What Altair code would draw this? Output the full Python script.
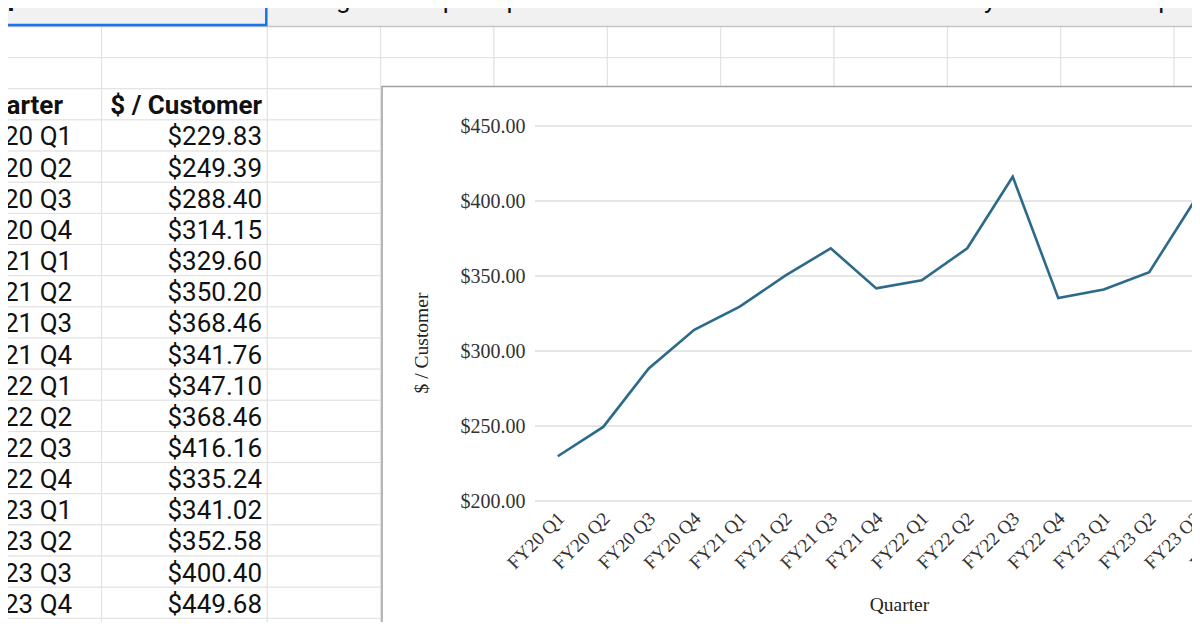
import altair as alt
import pandas as pd

# ---------------- data ----------------
QUARTERS = ["FY20 Q1", "FY20 Q2", "FY20 Q3", "FY20 Q4",
            "FY21 Q1", "FY21 Q2", "FY21 Q3", "FY21 Q4",
            "FY22 Q1", "FY22 Q2", "FY22 Q3", "FY22 Q4",
            "FY23 Q1", "FY23 Q2", "FY23 Q3", "FY23 Q4"]
SPEND = [229.83, 249.39, 288.40, 314.15,
         329.60, 350.20, 368.46, 341.76,
         347.10, 368.46, 416.16, 335.24,
         341.02, 352.58, 400.40, 449.68]
Y_TICKS = [200, 250, 300, 350, 400, 450]
COLUMN_HEADERS = ["Quarter", "$ / Customer"]
SELECTED_CELL = "Spend per Customer:"
NOTE_CELL = ("Average total spend per customer: Increases as customers buy "
             "more seats x price increases")

# ---------------- layout (window pixels) ----------------
MARGIN = 8
WIN_W, WIN_H = 1200, 630
DRAW_W, DRAW_H = WIN_W - 2 * MARGIN, WIN_H - 2 * MARGIN
ROW_TOP, ROW_H, N_ROWS = 26.5, 31.15, 20
COL_LEFT = -30.0
COL_W = [131.5, 165.8] + [113.35] * 9
HEADER_ROW, FIRST_DATA_ROW = 2, 3
BASELINE = 25.5
SHEET_FS = 26
TXT_LEFT_X, TXT_RIGHT_X = -26, 262
PLOT_X0, PLOT_Y0, PLOT_H = 535, 126, 375
STEP = 45.5
FRAME = (382, 86.5, 1500, 900)

SHEET_FONT = "Roboto"
CHART_FONT = "Liberation Serif"
LINE_COLOR = "#2c6a8a"

plot_w = MARGIN + DRAW_W - PLOT_X0

SX = alt.Scale(domain=[0, WIN_W], range=[-PLOT_X0, WIN_W - PLOT_X0], nice=False, zero=False)
SY = alt.Scale(domain=[0, WIN_H], range=[-PLOT_Y0, WIN_H - PLOT_Y0], nice=False, zero=False)


def sx(f):
    return alt.X(f"{f}:Q", scale=SX, axis=None)


def sy(f):
    return alt.Y(f"{f}:Q", scale=SY, axis=None)


# sheet cells
edges = [COL_LEFT]
for w in COL_W:
    edges.append(edges[-1] + w)
cells = pd.DataFrame([
    {"x": edges[c], "x2": edges[c + 1],
     "y": ROW_TOP + r * ROW_H, "y2": ROW_TOP + (r + 1) * ROW_H}
    for r in range(N_ROWS) for c in range(len(COL_W))
])

cell_layer = alt.Chart(cells).mark_rect(fill="white", stroke="#e1e1e1", strokeWidth=1).encode(
    x=sx("x"), x2="x2:Q", y=sy("y"), y2="y2:Q")

band = alt.Chart(pd.DataFrame([{"x": -40, "x2": WIN_W + 40, "y": -20, "y2": ROW_TOP}])).mark_rect(
    fill="#f1f1f1").encode(x=sx("x"), x2="x2:Q", y=sy("y"), y2="y2:Q")

band_line = alt.Chart(pd.DataFrame([{"x": -40, "x2": WIN_W + 40, "y": ROW_TOP}])).mark_rule(
    color="#c6c6c6", strokeWidth=1.5).encode(x=sx("x"), x2="x2:Q", y=sy("y"))

selected = alt.Chart(pd.DataFrame([{"x": -40, "x2": edges[2] - 1, "y": -20, "y2": ROW_TOP - 1.5}])).mark_rect(
    fill="white", fillOpacity=0, stroke="#1a73e8", strokeWidth=2.5).encode(
    x=sx("x"), x2="x2:Q", y=sy("y"), y2="y2:Q")

top_bold = alt.Chart(pd.DataFrame([{"x": 174, "y": 5.5, "t": SELECTED_CELL}])).mark_text(
    font=SHEET_FONT, fontSize=SHEET_FS, fontWeight="bold", align="right", baseline="alphabetic",
    color="#111").encode(x=sx("x"), y=sy("y"), text="t:N")

top_note = alt.Chart(pd.DataFrame([{"x": 271, "y": 7.5, "t": NOTE_CELL}])).mark_text(
    font=SHEET_FONT, fontSize=SHEET_FS, align="left", baseline="alphabetic", color="#111").encode(
    x=sx("x"), y=sy("y"), text="t:N")

hdr_y = ROW_TOP + HEADER_ROW * ROW_H + BASELINE
hdr_left = alt.Chart(pd.DataFrame([{"x": TXT_LEFT_X, "y": hdr_y, "t": COLUMN_HEADERS[0]}])).mark_text(
    font=SHEET_FONT, fontSize=SHEET_FS, fontWeight="bold", align="left", baseline="alphabetic",
    color="#111").encode(x=sx("x"), y=sy("y"), text="t:N")
hdr_right = alt.Chart(pd.DataFrame([{"x": TXT_RIGHT_X, "y": hdr_y, "t": COLUMN_HEADERS[1]}])).mark_text(
    font=SHEET_FONT, fontSize=SHEET_FS, fontWeight="bold", align="right", baseline="alphabetic",
    color="#111").encode(x=sx("x"), y=sy("y"), text="t:N")

table = pd.DataFrame({
    "quarter": QUARTERS,
    "spend": SPEND,
    "xl": [TXT_LEFT_X] * len(QUARTERS),
    "xr": [TXT_RIGHT_X] * len(QUARTERS),
    "y": [ROW_TOP + (FIRST_DATA_ROW + i) * ROW_H + BASELINE for i in range(len(QUARTERS))],
})
q_text = alt.Chart(table).mark_text(
    font=SHEET_FONT, fontSize=SHEET_FS, align="left", baseline="alphabetic", color="#111").encode(
    x=sx("xl"), y=sy("y"), text="quarter:N")
v_text = alt.Chart(table).mark_text(
    font=SHEET_FONT, fontSize=SHEET_FS, align="right", baseline="alphabetic", color="#111").encode(
    x=sx("xr"), y=sy("y"), text=alt.Text("spend:Q", format="$.2f"))

frame = alt.Chart(pd.DataFrame([{"x": FRAME[0], "x2": FRAME[2], "y": FRAME[1], "y2": FRAME[3]}])).mark_rect(
    fill="white", stroke="#a0a0a0", strokeWidth=1.5).encode(
    x=sx("x"), x2="x2:Q", y=sy("y"), y2="y2:Q")

YS = alt.Scale(domain=[Y_TICKS[0], Y_TICKS[-1]], nice=False, zero=False)

grid = alt.Chart(pd.DataFrame({"v": Y_TICKS})).mark_rule(color="#cccccc", strokeWidth=1).encode(
    x=alt.value(0), x2=alt.value(plot_w), y=alt.Y("v:Q", scale=YS, axis=None))

line = alt.Chart(table).mark_line(color=LINE_COLOR, strokeWidth=2.6, clip=False).encode(
    x=alt.X("quarter:N", sort=QUARTERS,
            scale=alt.Scale(type="point", domain=QUARTERS,
                            range=[STEP / 2, STEP / 2 + STEP * (len(QUARTERS) - 1)], padding=0),
            axis=alt.Axis(orient="bottom", title="Quarter", labelAngle=-45, labelAlign="right",
                          labelBaseline="middle", labelPadding=14, labelOffset=3, ticks=False,
                          domain=False, grid=False, labelFontSize=19, titleFontSize=19.5, titleY=109,
                          titleBaseline="alphabetic", labelOverlap=False, zindex=1)),
    y=alt.Y("spend:Q", scale=YS,
            axis=alt.Axis(orient="left", values=Y_TICKS, format="$.2f", title="$ / Customer",
                          labelFontSize=20, labelPadding=10, ticks=False, domain=False, grid=False,
                          titleFontSize=19.5, titleAngle=-90, titleAlign="center",
                          titleBaseline="middle", titleX=421.7 - PLOT_X0, titleY=342.5 - PLOT_Y0,
                          zindex=1)),
)

chart = alt.layer(
    band, cell_layer, band_line, selected, top_bold, top_note,
    hdr_left, hdr_right, q_text, v_text, frame, grid, line,
).resolve_scale(x="independent", y="independent").properties(
    width=plot_w, height=PLOT_H,
    padding={"left": PLOT_X0 - MARGIN, "top": PLOT_Y0 - MARGIN, "right": 0,
             "bottom": MARGIN + DRAW_H - PLOT_Y0 - PLOT_H},
    autosize=alt.AutoSizeParams(type="none"),
    background="white",
).configure_view(stroke=None).configure_axis(
    labelFont=CHART_FONT, titleFont=CHART_FONT, labelColor="#333333",
    titleColor="#222222", titleFontWeight="normal",
)

chart.save("out.html", embed_options={"renderer": "svg", "actions": False})
